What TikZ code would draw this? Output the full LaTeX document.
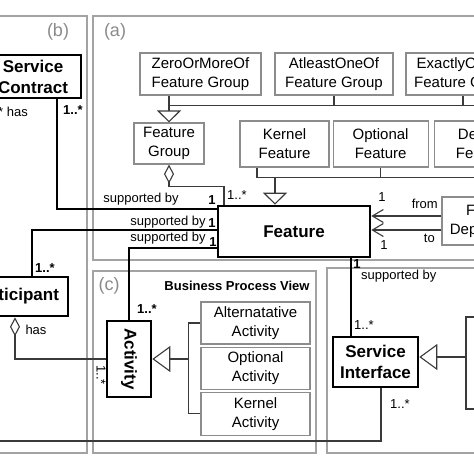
\documentclass[tikz,border=0pt]{standalone}
\usepackage{fontspec}
\setmainfont{Liberation Sans}
\usetikzlibrary{arrows.meta,positioning,calc}
\definecolor{frame}{HTML}{A3A3A3}
\definecolor{thinbox}{HTML}{8C8C8C}
\definecolor{wire}{HTML}{3A3A3A}

\begin{document}
\begin{tikzpicture}[x=1pt,y=-1pt,
        >={Straight Barb[length=11pt,width=13pt]},
        panel/.style={draw=frame,line width=1.2pt},
        tag/.style={font=\fontsize{18}{18}\selectfont,text=frame!85!black},
        cls/.style={draw=thinbox,line width=1.1pt,align=center,inner sep=0pt,
                    font=\fontsize{15}{19}\selectfont},
        key/.style={draw=black,line width=2.6pt,align=center,inner sep=0pt,
                    font=\bfseries\fontsize{17}{21}\selectfont},
        conn/.style={draw=wire,line width=1.1pt},
        link/.style={draw=black,line width=2.6pt},
        gen/.style={conn,-{Triangle[open,length=12pt,width=24pt]}},
        genl/.style={conn,-{Triangle[open,length=18pt,width=26pt]}},
        agg/.style={conn,{Diamond[open,length=19pt,width=10pt]}-},
        lbl/.style={font=\fontsize{13}{13}\selectfont,inner sep=0pt},
        mult/.style={lbl,font=\bfseries\fontsize{13}{13}\selectfont}]
      \useasboundingbox (0,0) rectangle (474,474);
      \clip (0,0) rectangle (474,474);
      % panels
      \draw[panel] (-10,16) rectangle (87,453);
      \draw[panel] (93,16) rectangle (490,260);
      \draw[panel] (93,271) rectangle (316,453);
      \draw[panel] (327,268) rectangle (490,453);
      \node[tag] (tb) at (58,32) {(b)};
      \node[tag] (ta) at (115,32) {(a)};
      \node[tag] (tc) at (109,286) {(c)};
      % (a) features
      \node[cls,minimum width=121pt,minimum height=42pt] (zom) at (200.5,74) {ZeroOrMoreOf\\Feature Group};
      \node[cls,minimum width=118pt,minimum height=42pt] (alo) at (334,74) {AtleastOneOf\\Feature Group};
      \node[cls,minimum width=114pt,minimum height=42pt] (exo) at (463,74) {ExactlyOneOf\\Feature Group};
      \node[cls,minimum width=70pt,minimum height=41pt] (fg) at (169,143.5) {Feature\\Group};
      \node[cls,minimum width=89pt,minimum height=46pt] (kf) at (284.5,144) {Kernel\\Feature};
      \node[cls,minimum width=95pt,minimum height=46pt,right=3pt of kf] (of) {Optional\\Feature};
      \node[cls,minimum width=95pt,minimum height=46pt,right=5pt of of] (df) {Default\\Feature};
      \node[key,minimum width=152pt,minimum height=51pt] (feat) at (294,231.5) {Feature};
      \node[cls,minimum width=100pt,minimum height=48pt] (fd) at (492,221) {Feature\\Dependency};
      \coordinate (gj) at ([yshift=17pt]fg.north);
      \draw[conn] (zom.south -| gj) -- (gj) -- (gj -| exo.east);
      \draw[conn] (alo.south) -- (alo.south |- gj);
      \draw[conn] (exo.south) -- (exo.south |- gj);
      \draw[gen] (gj) -- (fg.north);
      \coordinate (fj) at ([xshift=-19pt,yshift=27pt]feat.north);
      \draw[conn] ([xshift=-27.5pt]kf.south) |- (fj) -- (fj -| df.east);
      \draw[conn] (of.south) -- (of.south |- fj);
      \draw[conn] (df.south) -- (df.south |- fj);
      \draw[gen] (fj) -- (fj |- feat.north);
      \draw[agg] (fg.south) |- ([xshift=-70pt,yshift=18pt]feat.north) -- ([xshift=-70pt]feat.north);
      \node[lbl] (lzm) at (237,195) {1..*};
      \draw[conn,->] ([yshift=5pt]fd.west) -- ([yshift=5pt]fd.west -| feat.east);
      \draw[conn,->] ([yshift=-9pt]fd.west) -- ([yshift=-9pt]fd.west -| feat.east);
      \node[lbl,anchor=east] (lfrom) at (438,204) {from};
      \node[lbl,anchor=east] (lto) at (435,238) {to};
      \node[lbl] (lf1) at (382,197) {1};
      \node[lbl] (lt1) at (384,245) {1};
      % (b) participants
      \node[key,minimum width=96pt,minimum height=43pt] (sc) at (33,76.5) {Service\\Contract};
      \node[key,minimum width=106pt,minimum height=39pt] (part) at (15,296.5) {Participant};
      \node[mult] (msc) at (73,110) {1..*};
      \node[lbl,anchor=east] (lhas) at (28,112) {1..* has};
      \node[mult] (mpart) at (45,268) {1..*};
      \node[lbl] (lhas2) at (36,330) {has};
      % (c) business process view
      \node[font=\bfseries\fontsize{13}{13}\selectfont,inner sep=0pt] (bpv) at (237,286) {Business Process View};
      \node[key,minimum width=44pt,minimum height=76pt] (act) at (129,359) {\rotatebox{-90}{Activity}};
      \node[cls,minimum width=109pt,minimum height=42pt] (aa) at (255.5,323) {Alternatative\\Activity};
      \node[cls,minimum width=109pt,minimum height=42pt,below=2pt of aa] (oa) {Optional\\Activity};
      \node[cls,minimum width=109pt,minimum height=43pt,below=2pt of oa] (ka) {Kernel\\Activity};
      \coordinate (gb) at ([xshift=-12pt]aa.west);
      \draw[conn] (aa.west) -- (gb) -- (gb |- ka.west) -- (ka.west);
      \draw[genl] (gb |- act.east) -- (act.east);
      \draw[agg] (part.south) |- (act.west);
      \node[lbl,rotate=-90] (mact) at (101,375) {1..*};
      \node[mult] (mact2) at (147,309) {1..*};
      % supported by links
      \draw[link] ([xshift=24pt]sc.south) |- ([yshift=22.5pt]feat.west);
      \draw[link] ([xshift=17pt]part.north) |- ([yshift=1.5pt]feat.west);
      \draw[link] (act.north) |- ([yshift=-16.5pt]feat.west);
      \node[lbl] (ls1) at (141,199) {supported by};
      \node[lbl] (ls2) at (168,222) {supported by};
      \node[lbl] (ls3) at (168,238) {supported by};
      \node[mult] (m1) at (212,200) {1};
      \node[mult] (m2) at (212,223) {1};
      \node[mult] (m3) at (213,242) {1};
      % (d) services
      \node[key,minimum width=85pt,minimum height=50pt] (si) at (375.5,362) {Service\\Interface};
      \draw[link] ([xshift=57pt]feat.south) -- ([xshift=57pt]feat.south |- si.north);
      \node[mult] (msi) at (357,264) {1};
      \node[lbl,anchor=west] (lsi) at (361,276) {supported by};
      \node[lbl] (msi2) at (364,325) {1..*};
      \coordinate (br) at (466,357);
      \coordinate (rt) at (480,317);
      \coordinate (rbt) at (480,409);
      \draw[conn] (rt) -| (br |- rbt) -- (rbt);
      \draw[genl] (br) -- (br -| si.east);
      \coordinate (lft) at (-5,441);
      \draw[conn] ([xshift=5.5pt]si.south) |- (lft);
      \node[lbl] (msi3) at (400,404) {1..*};
    \end{tikzpicture}
\end{document}
